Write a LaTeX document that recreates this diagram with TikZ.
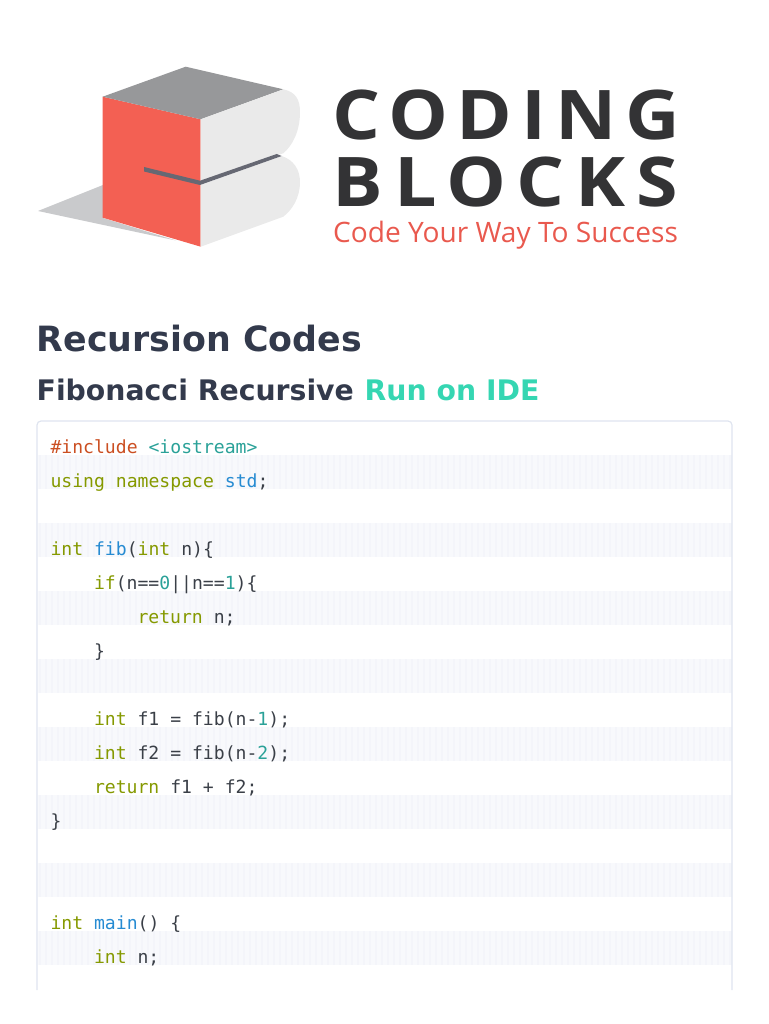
\documentclass[tikz,border=0pt]{standalone}
\usepackage{fontspec}
\setmainfont{DejaVu Sans}
\setmonofont{DejaVu Sans Mono}
\newfontfamily\logofont{Open Sans}
\definecolor{logored}{HTML}{F36053}
\definecolor{logogray}{HTML}{97989A}
\definecolor{logowhite}{HTML}{EAEAEA}
\definecolor{logoslot}{HTML}{666873}
\definecolor{logoshadow}{HTML}{C9CACC}
\definecolor{logotext}{HTML}{333335}
\definecolor{logotag}{HTML}{E9594E}
\definecolor{headcol}{HTML}{333A4C}
\definecolor{runcol}{HTML}{35D6B2}
\definecolor{bandcol}{HTML}{F8F9FC}
\definecolor{stripecol}{HTML}{F4F5FA}
\definecolor{boxcol}{HTML}{DFE4EF}
\definecolor{kwcol}{HTML}{859900}
\definecolor{fncol}{HTML}{268BD2}
\definecolor{numcol}{HTML}{2AA198}
\definecolor{metacol}{HTML}{CB4F22}
\definecolor{codecol}{HTML}{3A3F47}
\newcommand{\kw}[1]{\textcolor{kwcol}{#1}}
\newcommand{\fn}[1]{\textcolor{fncol}{#1}}
\newcommand{\num}[1]{\textcolor{numcol}{#1}}
\tikzset{
  lbl/.style={inner sep=0pt,anchor=base west},
  codeline/.style={lbl,text=codecol,font=\ttfamily\fontsize{18.1}{22}\selectfont},
  heading/.style={lbl,text=headcol,font=\bfseries\fontsize{#1}{#1}\selectfont},
  logoword/.style={lbl,text=logotext,font=\logofont\bfseries\fontsize{68.5}{70}\selectfont}
}
\begin{document}
\begin{tikzpicture}[x=1pt,y=-1pt]
\useasboundingbox (0,0) rectangle (768,1024);
% logo
\fill[logoshadow] (38,211) -- (103,185) -- (103,218) -- (176,240.5) -- cycle;
\fill[logored] (102.7,96.7) -- (200.7,119.3) -- (200.7,246.7) -- (102.7,217.7) -- cycle;
\fill[logogray] (102.7,96.7) -- (185.7,66.7) -- (283.3,89.3) -- (200.7,119.3) -- cycle;
\fill[logowhite] (200.7,119.3) -- (283.3,89.3) .. controls (296,92) and (300,100) .. (300,112)
  .. controls (300,132) and (292,146) .. (283.3,153.3) -- (200.7,181) -- cycle;
\fill[logowhite] (200.7,185) -- (281.7,156) .. controls (294,160) and (300,170) .. (300,182)
  .. controls (300,198) and (292,210) .. (283.3,216.7) -- (200.7,246.7) -- cycle;
\fill[logoslot] (144,167) -- (200,180.7) -- (276.7,154) -- (281.7,156) -- (200,185) -- (144,171.5) -- cycle;
\node[logoword] (coding) at (332.5,140) {\addfontfeature{FakeStretch=1.1,LetterSpace=13}CODING};
\node[logoword] (blocks) at (332.5,207) {\addfontfeature{FakeStretch=1.1,LetterSpace=15.8}BLOCKS};
\node[lbl,text=logotag,font=\logofont\fontsize{28.1}{30}\selectfont] (slogan) at (333,242) {Code Your Way To Success};
% headings
\node[heading=34.8] (title) at (36.5,351) {Recursion Codes};
\node[heading=28.3] (fibhead) at (36.5,400.6) {Fibonacci Recursive};
\node[heading=28.3,text=runcol] (runlink) at (364.5,400.6) {Run on IDE};
% code box
\foreach \y in {455,523,591,659,727,795,863,931}
{
\fill[bandcol] (38,\y) rectangle (732,\y+34);
\foreach \x in {40,46,...,730}
\draw[stripecol,line width=1.5pt] (\x,\y) -- (\x,\y+34);
}
\draw[boxcol,line width=1.2pt,rounded corners=4pt] (37,990) -- (37,421) -- (732,421) -- (732,990);
% code lines
\node[codeline] (line1) at (50.3,453.3) {\textcolor{metacol}{\#include} \num{<iostream>}};
\node[codeline] (line2) at (50.3,487.3) {\kw{using namespace} \fn{std};};
\node[codeline] (line4) at (50.3,555.4) {\kw{int} \fn{fib}(\kw{int} n)\{};
\node[codeline] (line5) at (93.8,589.4) {\kw{if}(n==\num{0}||n==\num{1})\{};
\node[codeline] (line6) at (137.3,623.5) {\kw{return} n;};
\node[codeline] (line7) at (93.8,657.5) {\}};
\node[codeline] (line9) at (93.8,725.6) {\kw{int} f1 = fib(n-\num{1});};
\node[codeline] (line10) at (93.8,759.6) {\kw{int} f2 = fib(n-\num{2});};
\node[codeline] (line11) at (93.8,793.7) {\kw{return} f1 + f2;};
\node[codeline] (line12) at (50.3,827.7) {\}};
\node[codeline] (line15) at (50.3,929.8) {\kw{int} \fn{main}() \{};
\node[codeline] (line16) at (93.8,963.9) {\kw{int} n;};
\end{tikzpicture}
\end{document}
